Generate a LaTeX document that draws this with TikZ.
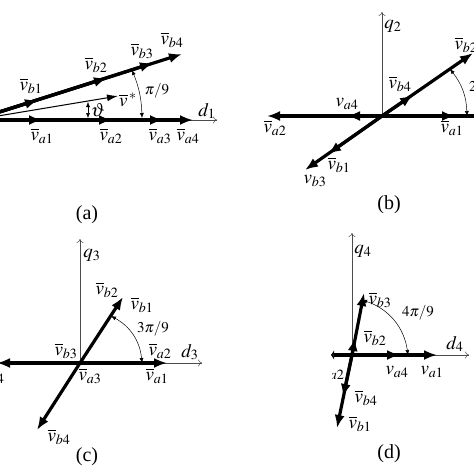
\documentclass[tikz,border=0pt]{standalone}
\usepackage{mathptmx}
\usepackage{fontspec}
\setmainfont{Liberation Serif}
\usetikzlibrary{arrows.meta}
\tikzset{
  vect/.style={line width=3.2pt,-{Latex[length=13pt,width=10pt]}},
  vstar/.style={line width=1pt,-{Latex[length=11pt,width=7pt]}},
  axe/.style={line width=0.5pt,draw=black!70,-{To[length=4pt,width=7pt]}},
  angl/.style={line width=0.5pt,{Latex[length=5pt,width=4pt]}-{Latex[length=5pt,width=4pt]}},
  lab/.style={inner sep=0pt,font=\fontsize{19}{22}\selectfont},
  alab/.style={inner sep=0pt,font=\fontsize{15}{18}\selectfont},
  caplab/.style={inner sep=0pt,font=\fontsize{20}{24}\selectfont}
}
\begin{document}
\begin{tikzpicture}[x=1pt,y=-1pt]
\useasboundingbox (0,0) rectangle (474,474);
\fill[white] (0,0) rectangle (474,474);
\clip (0,0) rectangle (474,474);
% ---------- (a)
\coordinate (Oa) at (-26,120);
\coordinate (d1) at (217,120);
\draw[axe] (Oa) -- (d1);
\foreach \n/\x in {4/193,3/163,2/112,1/42}
  \draw[vect] (Oa) -- (\x,120) coordinate (a\n);
\foreach \n/\x/\y in {4/182/54,3/153/63,2/107/78,1/38/100}
  \draw[vect] (Oa) -- (\x,\y) coordinate (b\n);
\coordinate (vs) at (118,96);
\draw[vstar] (Oa) -- (vs);
\coordinate (th1) at (88,102); \coordinate (th2) at (88,118);
\draw[angl] (th1) -- (th2);
\coordinate (pa1) at (132,70); \coordinate (pa2) at (142,118);
\draw[angl] (pa1) to[bend left=10] (pa2);
\node[lab] (la1) at (42,136) {$\overline{v}_{a1}$};
\node[lab] (la2) at (111,136) {$\overline{v}_{a2}$};
\node[lab] (la3) at (160,136) {$\overline{v}_{a3}$};
\node[lab] (la4) at (188,136) {$\overline{v}_{a4}$};
\node[lab] (lb1) at (31,86) {$\overline{v}_{b1}$};
\node[lab] (lb2) at (96,65) {$\overline{v}_{b2}$};
\node[lab] (lb3) at (142,51) {$\overline{v}_{b3}$};
\node[lab] (lb4) at (172,40) {$\overline{v}_{b4}$};
\node[lab] (lvs) at (128,100) {$\overline{v}^{\,*}$};
\node[lab] (lth) at (98,110) {$\vartheta$};
\node[alab] (lpa) at (157,91) {$\pi/9$};
\node[lab] (ld1) at (207,111) {$d_1$};
\node[caplab] (cpa) at (87,215) {(a)};
% ---------- (b)
\coordinate (Ob) at (382,116);
\coordinate (q2) at (382,12);
\draw[axe] (Ob) -- (q2);
\foreach \n/\x in {3/500,1/455,2/267,4/347}
  \draw[vect] (Ob) -- (\x,116) coordinate (a\n);
\foreach \n/\x/\y in {2/473/53,4/413/95,3/305/170,1/328/154}
  \draw[vect] (Ob) -- (\x,\y) coordinate (b\n);
\coordinate (pb1) at (450,69); \coordinate (pb2) at (467,116);
\draw[angl] (pb1) to[bend left=18] (pb2);
\node[lab] (lq2) at (393,26) {$q_2$};
\node[lab] (la2b) at (275,128) {$\overline{v}_{a2}$};
\node[lab] (la4b) at (347,104) {$v_{a4}$};
\node[lab] (la1b) at (452,128) {$\overline{v}_{a1}$};
\node[lab] (la3b) at (486,128) {$\overline{v}_{a3}$};
\node[lab] (lb2b) at (466,45) {$\overline{v}_{b2}$};
\node[lab] (lb4b) at (400,84) {$\overline{v}_{b4}$};
\node[lab] (lb1b) at (339,165) {$\overline{v}_{b1}$};
\node[lab] (lb3b) at (315,181) {$v_{b3}$};
\node[alab,anchor=west] (lpb) at (469,88) {$2\pi/9$};
\node[caplab] (cpb) at (389,205) {(b)};
% ---------- (c)
\coordinate (Oc) at (80,363);
\coordinate (q3) at (80,239);
\coordinate (d3) at (202,363);
\draw[axe] (Oc) -- (q3);
\draw[axe] (Oc) -- (d3);
\coordinate (a1c) at (167,363); \coordinate (a4c) at (-3,363);
\coordinate (b1c) at (123,297); \coordinate (b4c) at (37,430);
\draw[vect] (Oc) -- (a1c);
\draw[vect] (Oc) -- (a4c);
\draw[vect] (Oc) -- (b1c);
\draw[vect] (Oc) -- (b4c);
\coordinate (pc1) at (111,316); \coordinate (pc2) at (142,363);
\draw[angl] (pc1) to[bend left=28] (pc2);
\node[lab] (lq3) at (92,255) {$q_3$};
\node[lab] (ld3) at (190,352) {$d_3$};
\node[lab] (la2c) at (160,351) {$\overline{v}_{a2}$};
\node[lab] (la1c) at (157,376) {$\overline{v}_{a1}$};
\node[lab] (la3c) at (90,376) {$\overline{v}_{a3}$};
\node[lab] (lb3c) at (66,351) {$\overline{v}_{b3}$};
\node[lab] (la4c) at (-7,376) {$\overline{v}_{a4}$};
\node[lab] (lb2c) at (107,290) {$\overline{v}_{b2}$};
\node[lab] (lb1c) at (142,305) {$\overline{v}_{b1}$};
\node[lab] (lb4c) at (59,437) {$\overline{v}_{b4}$};
\node[alab] (lpc) at (153,329) {$3\pi/9$};
\node[caplab] (cpc) at (87,457) {(c)};
% ---------- (d)
\coordinate (Od) at (352,355);
\coordinate (q4) at (352,233);
\coordinate (d4) at (469,355);
\draw[axe] (Od) -- (q4);
\draw[axe] (Od) -- (d4);
\coordinate (a1d) at (437,355); \coordinate (a4d) at (400,355);
\coordinate (a2d) at (331,355);
\draw[vect] (Od) -- (a1d);
\draw[vect] (Od) -- (a4d);
\draw[line width=3.2pt,-{Latex[length=3pt,width=10pt]}] (Od) -- (a2d);
\coordinate (b3d) at (364,293); \coordinate (b2d) at (355,338);
\coordinate (b1d) at (337,428); \coordinate (b4d) at (343,397);
\draw[vect] (Od) -- (b3d);
\draw[vect] (Od) -- (b2d);
\draw[vect] (Od) -- (b1d);
\draw[vect] (Od) -- (b4d);
\coordinate (pd1) at (362,300); \coordinate (pd2) at (408,355);
\draw[angl] (pd1) to[bend left=32] (pd2);
\node[lab] (lq4) at (363,251) {$q_4$};
\node[lab] (ld4) at (455,344) {$d_4$};
\node[lab] (lb3d) at (380,300) {$\overline{v}_{b3}$};
\node[lab] (lb2d) at (375,338) {$\overline{v}_{b2}$};
\node[lab] (lb4d) at (366,398) {$\overline{v}_{b4}$};
\node[lab] (lb1d) at (360,424) {$\overline{v}_{b1}$};
\node[lab] (la4d) at (397,372) {$v_{a4}$};
\node[lab] (la1d) at (432,372) {$v_{a1}$};
\node[alab] (lpd) at (418,313) {$4\pi/9$};
\node[caplab] (cpd) at (389,454) {(d)};
\begin{scope}
  \clip (332,360) rectangle (346,385);
  \node[lab] (la2d) at (333,372) {$\overline{v}_{a2}$};
\end{scope}
\end{tikzpicture}
\end{document}
